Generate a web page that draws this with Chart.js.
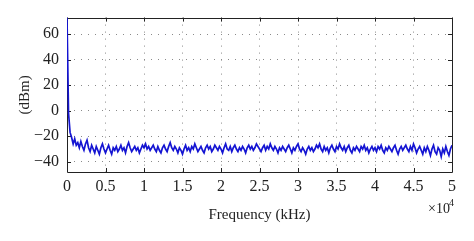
<!DOCTYPE html>
<html>
<head>
<meta charset="utf-8">
<script src="https://cdn.jsdelivr.net/npm/chart.js@4"></script>
<style>
  html, body { margin: 0; padding: 0; background: #fff; }
</style>
</head>
<body>
<canvas id="specChart" width="474" height="241"></canvas>
<script>
// spectrum level in dBm, one reading every 200 (x axis is shown in units of 10^4)
var levels = [
  73, -2, -17, -21, -26, -22, -27, -25, -29, -24,
  -28, -31, -26, -23, -29, -32, -27, -30, -33, -28,
  -31, -34, -29, -26, -30, -33, -30, -27, -31, -34,
  -29, -31, -28, -32, -30, -27, -31, -29, -33, -28,
  -25, -29, -32, -30, -28, -31, -29, -33, -30, -27,
  -29, -26, -30, -28, -31, -29, -27, -30, -32, -28,
  -31, -33, -29, -27, -30, -32, -28, -25, -29, -31,
  -28, -30, -33, -29, -31, -34, -30, -27, -31, -29,
  -32, -28, -30, -26, -29, -32, -30, -28, -31, -33,
  -29, -27, -30, -28, -32, -30, -27, -29, -31, -28,
  -30, -33, -29, -26, -30, -31, -28, -32, -29, -27,
  -30, -32, -29, -31, -28, -30, -33, -29, -27, -30,
  -28, -31, -29, -26, -28, -30, -32, -29, -27, -31,
  -28, -30, -26, -29, -31, -28, -30, -33, -29, -31,
  -28, -30, -32, -29, -27, -30, -33, -29, -31, -28,
  -26, -30, -32, -29, -31, -34, -30, -28, -31, -29,
  -32, -30, -27, -29, -26, -30, -32, -28, -31, -29,
  -33, -29, -27, -30, -32, -28, -30, -26, -29, -31,
  -28, -32, -29, -27, -31, -33, -29, -31, -28, -30,
  -32, -28, -30, -27, -31, -29, -33, -30, -28, -31,
  -29, -32, -28, -30, -27, -31, -33, -29, -31, -28,
  -30, -32, -29, -27, -31, -34, -30, -28, -31, -29,
  -27, -30, -32, -28, -31, -26, -29, -33, -30, -28,
  -31, -34, -29, -32, -28, -31, -35, -30, -27, -32,
  -34, -29, -31, -36, -30, -33, -28, -32, -35, -30,
  -27
];
var freqStep = 200;

var xTicks = [0, 5000, 10000, 15000, 20000, 25000, 30000, 35000, 40000, 45000, 50000];
var xTickLabels = ['0', '0.5', '1', '1.5', '2', '2.5', '3', '3.5', '4', '4.5', '5'];
var yTicks = [-40, -20, 0, 20, 40, 60];

var points = levels.map(function (v, i) {
  return { x: i * freqStep, y: v };
});

var serif = '"Liberation Serif", "DejaVu Serif", serif';

// matlab style box with inward ticks on all four sides
var boxPlugin = {
  id: 'box',
  beforeDatasetsDraw: function (chart) {
    var a = chart.chartArea, c = chart.ctx;
    var xs = chart.scales.x, ys = chart.scales.y;
    c.save();
    c.strokeStyle = '#222';
    c.lineWidth = 1;
    c.beginPath();
    c.rect(Math.round(a.left) + 0.5, Math.round(a.top) + 0.5,
      Math.round(a.right - a.left), Math.round(a.bottom - a.top));
    xTicks.forEach(function (t) {
      var px = Math.round(xs.getPixelForValue(t)) + 0.5;
      c.moveTo(px, a.bottom); c.lineTo(px, a.bottom - 4);
      c.moveTo(px, a.top); c.lineTo(px, a.top + 4);
    });
    yTicks.forEach(function (t) {
      var py = Math.round(ys.getPixelForValue(t)) + 0.5;
      c.moveTo(a.left, py); c.lineTo(a.left + 4, py);
      c.moveTo(a.right, py); c.lineTo(a.right - 4, py);
    });
    c.stroke();
    c.restore();
  },
  afterDraw: function (chart) {
    var c = chart.ctx;
    c.save();
    c.fillStyle = '#222';
    c.textBaseline = 'alphabetic';
    c.font = '14px ' + serif;
    c.fillText('\u00d710', 428, 213);
    c.font = '10px ' + serif;
    c.fillText('4', 449, 206);
    c.restore();
  }
};

var ctx = document.getElementById('specChart').getContext('2d');
var specChart = new Chart(ctx, {
  type: 'line',
  data: {
    datasets: [{
      data: points,
      borderColor: '#1414d2',
      borderWidth: 1.7,
      pointRadius: 0,
      tension: 0,
      fill: false
    }]
  },
  options: {
    responsive: false,
    animation: false,
    layout: { padding: { top: 16, right: 22, left: 0, bottom: 0 } },
    plugins: {
      legend: { display: false },
      tooltip: { enabled: false }
    },
    scales: {
      x: {
        type: 'linear',
        min: 0,
        max: 50000,
        afterBuildTicks: function (scale) {
          scale.ticks = xTicks.map(function (v) { return { value: v }; });
        },
        afterFit: function (scale) { scale.height = 69; },
        ticks: {
          padding: 5,
          maxRotation: 0,
          color: '#222',
          font: { family: serif, size: 16 },
          callback: function (v) { return xTickLabels[xTicks.indexOf(v)]; }
        },
        grid: { color: '#8a8a8a', lineWidth: 1, drawTicks: false },
        border: { display: false, dash: [1, 6] },
        title: {
          display: true,
          text: 'Frequency (kHz)',
          color: '#222',
          font: { family: serif, size: 15 },
          padding: { top: 0, bottom: 17 }
        }
      },
      y: {
        min: -48,
        max: 73,
        afterBuildTicks: function (scale) {
          scale.ticks = yTicks.map(function (v) { return { value: v }; });
        },
        afterFit: function (scale) { scale.width = 67; },
        ticks: {
          padding: 8,
          color: '#222',
          font: { family: serif, size: 16 },
          callback: function (v) { return v < 0 ? '\u2212' + Math.abs(v) : String(v); }
        },
        grid: { color: '#8a8a8a', lineWidth: 1, drawTicks: false },
        border: { display: false, dash: [1, 6] },
        title: {
          display: true,
          text: '(dBm)',
          color: '#222',
          font: { family: serif, size: 15 },
          padding: { top: 16, bottom: 0 }
        }
      }
    }
  },
  plugins: [boxPlugin]
});
</script>
</body>
</html>
